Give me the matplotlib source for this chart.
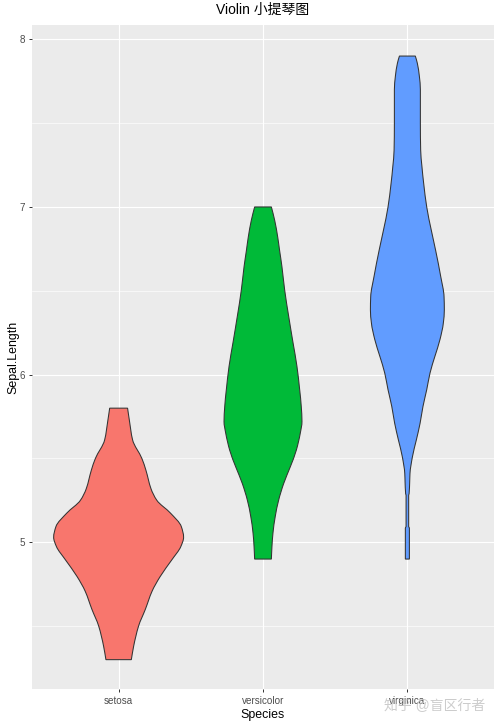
"""
plot.py

Violin chart of iris sepal length, drawn from profiles read off the picture.
"""
import matplotlib
matplotlib.use("Agg")
import matplotlib.pyplot as plt
from matplotlib.patches import PathPatch
from matplotlib.path import Path

species = ["setosa", "versicolor", "virginica"]
colors = ["#F8766D", "#00BA38", "#619CFF"]

# sepal length levels and half width of the violin at each level
setosa_y = [4.30, 4.38, 4.50, 4.60, 4.707, 4.796, 4.896, 4.975, 5.03, 5.094, 5.175,
            5.25, 5.32, 5.43, 5.50, 5.61, 5.73, 5.80]
setosa_w = [0.088, 0.104, 0.138, 0.185, 0.231, 0.288, 0.369, 0.431, 0.450, 0.434, 0.358,
            0.265, 0.224, 0.189, 0.161, 0.097, 0.074, 0.062]

versicolor_y = [4.90, 4.975, 5.055, 5.155, 5.25, 5.35, 5.45, 5.55, 5.65, 5.72, 5.81,
                5.91, 6.05, 6.19, 6.347, 6.505, 6.645, 6.74, 6.82, 6.92, 7.00]
versicolor_w = [0.058, 0.062, 0.069, 0.085, 0.108, 0.143, 0.189, 0.231, 0.258, 0.270, 0.265,
                0.254, 0.235, 0.208, 0.178, 0.150, 0.131, 0.115, 0.102, 0.081, 0.058]

virginica_y = [4.90, 5.085, 5.094, 5.28, 5.29, 5.36, 5.41, 5.51, 5.61, 5.71, 5.81, 5.91,
               6.01, 6.11, 6.21, 6.307, 6.385, 6.465, 6.585, 6.74, 6.86, 7.00, 7.14,
               7.24, 7.34, 7.50, 7.70, 7.78, 7.857, 7.90]
virginica_w = [0.014, 0.014, 0.009, 0.009, 0.012, 0.016, 0.018, 0.035, 0.062, 0.088, 0.108, 0.134,
               0.157, 0.191, 0.226, 0.249, 0.256, 0.254, 0.231, 0.196, 0.166, 0.134, 0.113,
               0.101, 0.092, 0.090, 0.090, 0.083, 0.069, 0.055]

profiles = [(setosa_y, setosa_w), (versicolor_y, versicolor_w), (virginica_y, virginica_w)]

y_ticks = [5, 6, 7, 8]
y_minor = [4.5, 5.5, 6.5, 7.5]


def get_slopes(levels, half):
    """
    Slope of the half width at each level, flat at local peaks so curves do not overshoot.
    :param levels: list of y values
    :param half: list of half widths
    :return: list of slopes
    """
    steps = [(half[i + 1] - half[i]) / (levels[i + 1] - levels[i]) for i in range(len(half) - 1)]
    slopes = [steps[0]]
    for a, b in zip(steps[:-1], steps[1:]):
        slopes.append(0.0 if a * b <= 0 else 2 * a * b / (a + b))
    slopes.append(steps[-1])
    return slopes


def violin_path(pos, levels, half):
    """
    Build the closed outline of one violin as bezier segments through the read values.
    :param pos: x position of the category
    :param levels: list of y values
    :param half: list of half widths
    :return: matplotlib Path
    """
    slopes = get_slopes(levels, half)
    left, right = [], []
    for i in range(len(levels) - 1):
        h = (levels[i + 1] - levels[i]) / 3
        seg = [(half[i] + slopes[i] * h, levels[i] + h),
               (half[i + 1] - slopes[i + 1] * h, levels[i + 1] - h),
               (half[i + 1], levels[i + 1])]
        left += [(pos - w, y) for w, y in seg]
        back = [(half[i + 1] - slopes[i + 1] * h, levels[i + 1] - h),
                (half[i] + slopes[i] * h, levels[i] + h),
                (half[i], levels[i])]
        right = [(pos + w, y) for w, y in back] + right
    verts = [(pos - half[0], levels[0])] + left + [(pos + half[-1], levels[-1])] + right
    verts.append(verts[0])
    codes = [Path.MOVETO] + [Path.CURVE4] * len(left) + [Path.LINETO] + [Path.CURVE4] * len(right)
    codes.append(Path.CLOSEPOLY)
    return Path(verts, codes)


plt.rcParams["font.family"] = ["Liberation Sans", "Noto Sans CJK SC", "DejaVu Sans"]

fig = plt.figure(figsize=(5.0, 7.26), dpi=100)
ax = fig.add_axes([32 / 500, 37 / 726, 462 / 500, 664.3 / 726])
ax.set_facecolor("#EBEBEB")
ax.set_xlim(0.4, 3.6)
ax.set_ylim(4.125, 8.087)
for spine in ax.spines.values():
    spine.set_visible(False)

# grid
ax.set_axisbelow(True)
ax.set_yticks(y_ticks)
ax.set_yticks(y_minor, minor=True)
ax.set_xticks([1, 2, 3])
ax.set_xticklabels(species)
ax.grid(True, which="major", color="white", linewidth=0.85)
ax.grid(True, which="minor", axis="y", color="white", linewidth=0.45)
ax.tick_params(axis="both", which="major", length=2.5, width=0.7, color="#333333",
               labelcolor="#4D4D4D", labelsize=7.1, pad=2.5)
ax.tick_params(axis="y", which="minor", length=0)

# violins
for i, (levels, half) in enumerate(profiles):
    patch = PathPatch(violin_path(i + 1, levels, half), facecolor=colors[i],
                      edgecolor="#333333", linewidth=0.75, zorder=3)
    ax.add_patch(patch)

fig.text(263 / 500, 1 - 10 / 726, "Violin 小提琴图", ha="center", va="center", fontsize=10, color="black")
fig.text(263 / 500, 1 - 715 / 726, "Species", ha="center", va="center", fontsize=8.9, color="black")
fig.text(13 / 500, 1 - 357 / 726, "Sepal.Length", ha="center", va="center", rotation=90,
         fontsize=8.9, color="black")

# watermark over the last tick label, as in the source picture
fig.text(435 / 500, 1 - 705 / 726, "知乎 @盲区行者", ha="center", va="center", fontsize=10,
         color="#C4C4C4", alpha=0.85)

fig.savefig("out.png", dpi=100)
plt.close(fig)
